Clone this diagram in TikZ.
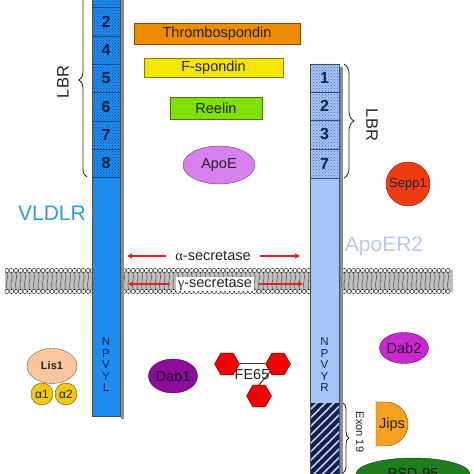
\documentclass[tikz,border=0pt]{standalone}
\usepackage{fontspec}
\setmainfont{Liberation Sans}
\newfontfamily\greekserif{Liberation Serif}
\usepackage{xcolor}
\usepackage{tikz}
\usetikzlibrary{shapes.geometric,patterns,patterns.meta,decorations.pathreplacing,arrows.meta}

\definecolor{vblue}{HTML}{1E8CF0}
\definecolor{vdot}{HTML}{0A4C9C}
\definecolor{ablue}{HTML}{A6C4F8}
\definecolor{adot}{HTML}{4A6CB8}
\definecolor{vlabel}{HTML}{2D9BE0}
\definecolor{alabel}{HTML}{B2CAF0}
\definecolor{navy}{HTML}{14204A}
\definecolor{txtgray}{HTML}{222222}
\definecolor{thrombo}{HTML}{F08C00}
\definecolor{fspond}{HTML}{F5E600}
\definecolor{reelin}{HTML}{80E000}
\definecolor{apoe}{HTML}{D880F0}
\definecolor{sepp}{HTML}{F03C14}
\definecolor{lis}{HTML}{F8C89C}
\definecolor{alphac}{HTML}{F0C810}
\definecolor{dabone}{HTML}{8C0C9C}
\definecolor{dabtwo}{HTML}{C828D0}
\definecolor{hexred}{HTML}{F00000}
\definecolor{jips}{HTML}{F8A020}
\definecolor{psd}{HTML}{1E7E1E}
\definecolor{arrred}{HTML}{E02020}

\begin{document}
\begin{tikzpicture}[x=1pt,y=1pt,
    every node/.style={font=\fontsize{14.5}{16}\selectfont, text=txtgray},
    bandbox/.style={draw=#1!55!black, fill=#1, inner sep=0pt},
    blob/.style={ellipse, draw=#1!50!black, fill=#1, inner sep=0pt},
    segnum/.style={font=\bfseries\fontsize{16}{18}\selectfont, text=navy},
    motif/.style={font=\fontsize{11.5}{12}\selectfont, text=navy},
    hexa/.style={regular polygon, regular polygon sides=6, minimum size=25pt,
                 draw=hexred!50!black, fill=hexred, inner sep=0pt},
    cut/.style={draw=arrred, line width=1.4pt, -{Triangle[length=5pt,width=5pt]}},
    lbrace/.style={decorate, decoration={brace, amplitude=#1}, draw=txtgray, thick},
    barline/.style={draw=black!70, line width=0.5pt}]

  \useasboundingbox (0,0) rectangle (474,474);
  \clip (0,0) rectangle (474,474);

  % membrane
  \fill[black!25] (5,182) rectangle (453,204);
  \foreach \x in {7,11.5,...,451} {
    \draw[black!60, line width=0.7pt] (\x,201) .. controls (\x+2,196) and (\x-2,190) .. (\x,185);
    \draw[black!80, fill=white, line width=0.5pt] (\x,203.5) circle (2.1);
    \draw[black!80, fill=white, line width=0.5pt] (\x,182.5) circle (2.1);
  }

  % VLDLR bar
  \fill[black!45] (121,55) rectangle (124,474);
  \fill[vblue] (92,58) rectangle (120,480);
  \foreach \yt/\yb/\lab in {480/467/{}, 467/438/2, 438/410/4, 410/382/5, 382/353/6, 353/325/7, 325/297/8} {
    \fill[pattern=crosshatch dots, pattern color=vdot] (92,\yb) rectangle (120,\yt);
    \draw[vdot, line width=0.5pt] (92,\yb) rectangle (120,\yt);
    \node[segnum] at (106,{(\yt+\yb)/2}) {\lab};
  }
  \draw[barline] (92,58) rectangle (120,480);

  % ApoER2 bar
  \fill[black!45] (340,-5) rectangle (343,407);
  \fill[ablue] (310,-5) rectangle (339,410);
  \foreach \yt/\yb/\lab in {410/382/1, 382/354/2, 354/325/3, 325/296/7} {
    \fill[pattern=crosshatch dots, pattern color=adot] (310,\yb) rectangle (339,\yt);
    \draw[adot!70!black, line width=0.5pt] (310,\yb) rectangle (339,\yt);
    \node[segnum] at (324.5,{(\yt+\yb)/2}) {\lab};
  }
  \fill[navy] (310,-5) rectangle (339,71);
  \fill[pattern={Lines[angle=45,distance=6pt,line width=1.6pt]}, pattern color=ablue!70!white] (310,-5) rectangle (339,71);
  \draw[barline] (310,-5) rectangle (339,410);

  % motifs
  \foreach \c [count=\i from 0] in {N,P,V,Y,L}
    \node[motif] at (106,132-11.5*\i) {\c};
  \foreach \c [count=\i from 0] in {N,P,V,Y,R}
    \node[motif] at (324.5,132-11.5*\i) {\c};

  % labels and braces
  \draw[lbrace=8pt] (87,297) -- (87,491);
  \node[rotate=90, font=\fontsize{16.5}{18}\selectfont] (lbrv) at (63,392) {LBR};
  \draw[lbrace=10pt] (344,410) -- (344,296);
  \node[rotate=-90, font=\fontsize{16.5}{18}\selectfont] (lbra) at (372,349) {LBR};
  \draw[lbrace=6pt] (343,71) -- (343,1);
  \node[rotate=-90, font=\fontsize{11}{12}\selectfont] (exon) at (360,42) {Exon 19};
  \node[font=\fontsize{21}{24}\selectfont, text=vlabel] (vldlr) at (52,261) {VLDLR};
  \node[font=\fontsize{21}{24}\selectfont, text=alabel] (apoer) at (384,228) {ApoER2};

  % ligands
  \node[bandbox=thrombo, minimum width=166pt, minimum height=21pt] (thr) at (217,440.5) {Thrombospondin};
  \node[bandbox=fspond, minimum width=139pt, minimum height=19pt] (fsp) at (213.5,406.5) {F-spondin};
  \node[bandbox=reelin, minimum width=92pt, minimum height=22pt] (reel) at (216,366) {Reelin};
  \node[blob=apoe, minimum width=72pt, minimum height=38pt] (apoe) at (219,309) {ApoE};
  \node[circle, draw=sepp!50!black, fill=sepp, minimum size=44pt, inner sep=0pt,
        font=\fontsize{13}{15}\selectfont] (sepp) at (408,290) {Sepp1};

  % secretases
  \node[inner xsep=9pt] (alpha) at (213,218) {{\greekserif α}-secretase};
  \coordinate (alphaL) at (127,218);
  \coordinate (alphaR) at (300,218);
  \draw[cut] (alpha.west) -- (alphaL);
  \draw[cut] (alpha.east) -- (alphaR);
  \node[fill=white, inner xsep=2pt, inner ysep=1pt] (gamma) at (215,190) {{\greekserif γ}-secretase};
  \coordinate (gammaL) at (128,190);
  \coordinate (gammaR) at (303,190);
  \draw[cut] ([xshift=-6pt]gamma.west) -- (gammaL);
  \draw[cut] ([xshift=5pt]gamma.east) -- (gammaR);

  % adaptors
  \node[blob=lis, minimum width=50pt, minimum height=35pt, font=\bfseries\fontsize{11}{12}\selectfont] (lis) at (52,108) {Lis1};
  \node[circle, draw=alphac!40!black, fill=alphac, minimum size=22pt, inner sep=0pt,
        font=\fontsize{12}{13}\selectfont] (aone) at (42,80) {α1};
  \node[circle, draw=alphac!40!black, fill=alphac, minimum size=22pt, inner sep=0pt,
        font=\fontsize{12}{13}\selectfont] (atwo) at (66,80) {α2};
  \node[blob=dabone, minimum width=45pt, minimum height=34pt, text=black!80!dabone] (dab1) at (173,98) {Dab1};
  \node[blob=dabtwo, minimum width=42pt, minimum height=31pt, text=black!70!dabtwo] (dab2) at (404,126) {Dab2};

  % FE65
  \node[hexa] (fa) at (227,110) {};
  \node[hexa] (fb) at (278,110) {};
  \node[hexa] (fc) at (259,78) {};
  \draw[black!80, line width=1pt] (fa.east) -- (fb.west);
  \draw[black!80, line width=1pt] (fb.south west) -- (fc.north);
  \node[inner sep=1pt] (fe) at (252,99) {FE65};

  % Jips and PSD-95
  \draw[draw=jips!50!black, fill=jips] (376,72) -- (386,72) arc[start angle=90, end angle=-90, radius=22] -- (376,28) -- cycle;
  \node (jipst) at (392,49) {Jips};
  \node[blob=psd, minimum width=114pt, minimum height=32pt, text=black!75!psd] (psd) at (413,0) {PSD-95};
\end{tikzpicture}
\end{document}
